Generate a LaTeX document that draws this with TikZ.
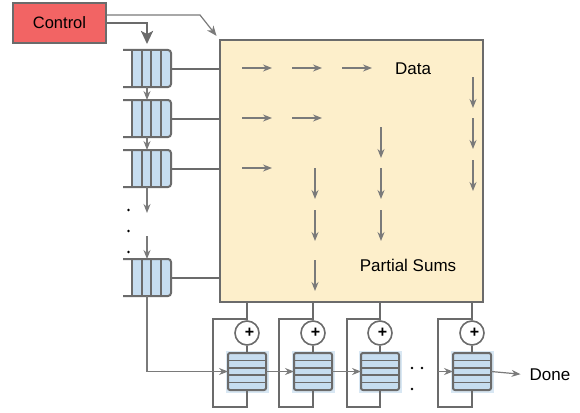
\documentclass[tikz,border=0pt]{standalone}
\usepackage{fontspec}
\setmainfont{Liberation Sans}
\usetikzlibrary{arrows.meta,calc}
\definecolor{linegray}{HTML}{6B6B6B}
\definecolor{arrgray}{HTML}{7A7A7A}
\definecolor{cream}{HTML}{FDEFCB}
\definecolor{qblue}{HTML}{C6DDF0}
\definecolor{ctlred}{HTML}{F26464}
\definecolor{glow}{HTML}{D8E7F3}
\newcommand\leftq[3]{%
  \node[qnode] (#1) at (#2,#3) {};
  \fill[qblue] ([xshift=9pt]#1.north west) rectangle (#1.south east);
  \foreach \dx in {9,19,28,38}{\draw[linegray,line width=1.6pt] ([xshift=\dx pt]#1.north west) -- ([xshift=\dx pt]#1.south west);}
  \draw[qline,rounded corners=3pt] (#1.north west) -- (#1.north east) -- (#1.south east) -- (#1.south west);
}
\newcommand\regq[3]{%
  \fill[glow] (#2-21.5,#3-21) rectangle (#2+21.5,#3+21);
  \node[regnode] (#1) at (#2,#3) {};
  \foreach \f in {1,2,3,4}{\draw[linegray,line width=1.6pt] ($(#1.north west)!\f/5!(#1.south west)$) -- ($(#1.north east)!\f/5!(#1.south east)$);}
}
\begin{document}
\begin{tikzpicture}[x=1pt,y=-1pt,
  qnode/.style={minimum width=48pt,minimum height=37pt,inner sep=0pt,outer sep=0pt},
  qline/.style={draw=linegray,line width=2pt},
  regnode/.style={minimum width=38pt,minimum height=37pt,inner sep=0pt,outer sep=0pt,draw=linegray,line width=2pt,fill=qblue,rounded corners=2pt},
  sumnode/.style={circle,draw=linegray,line width=1.6pt,fill=white,minimum size=24pt,inner sep=0pt,font=\fontsize{16}{16}\selectfont\bfseries},
  conn/.style={draw=linegray,line width=2pt},
  thinarr/.style={draw=arrgray,line width=1.2pt,-{Stealth[length=9pt,width=7pt,inset=3pt]}},
  lbl/.style={font=\fontsize{17}{20}\selectfont,inner sep=0pt}]
\useasboundingbox (0,0) rectangle (580,412);

% control
\node[draw=linegray,line width=2pt,fill=ctlred,minimum width=93pt,minimum height=40pt,inner sep=0pt,font=\fontsize{16.5}{20}\selectfont] (ctl) at (59.5,23) {Control\hspace{8pt}};

% big array
\node[draw=linegray,line width=2pt,fill=cream,minimum width=263pt,minimum height=262pt,inner sep=0pt] (arr) at (351.5,171) {};

% left queues
\leftq{q1}{147}{68.5}
\leftq{q2}{147}{118.5}
\leftq{q3}{147}{168.5}
\leftq{q4}{147}{277.5}

\coordinate (c1) at (200,15);
\draw[draw=arrgray,line width=1.2pt,-{Stealth[length=10pt,width=8pt,inset=3pt]},shorten >=4pt] (ctl.east |- c1) -- (c1) -- (arr.north west);
\draw[draw=linegray,line width=2.5pt,-{Stealth[length=13pt,width=12pt,inset=3pt]},shorten >=6pt] (ctl.east) -| (q1.north);

\foreach \q in {q1,q2,q3,q4}{\draw[conn] (\q.east) -- (\q.east -| arr.west);}
\draw[thinarr] (q1.south) -- (q2.north);
\draw[thinarr] (q2.south) -- (q3.north);
\coordinate (d1) at (147,213);
\coordinate (d2) at (147,236);
\draw[thinarr] (q3.south) -- (d1);
\draw[thinarr] (d2) -- (q4.north);
\foreach \yy in {210,231,252}{\fill (128.5,\yy) circle (1.4pt);}

% inner arrows
\foreach \xa/\yy in {242/68,292/68,342/68,242/118,292/118,242/168}{\draw[thinarr] (\xa,\yy) -- ++(30,0);}
\foreach \xx/\ya in {473/77,473/118,473/160,381/127,381/168,381/210,315/168,315/210,315/260}{\draw[thinarr] (\xx,\ya) -- ++(0,31);}
\node[lbl] (data) at (413,69) {Data};
\node[lbl] (psum) at (408,265) {Partial Sums};

% accumulators
\foreach \i/\xx in {1/247,2/313,3/380,4/472}{\regq{r\i}{\xx}{371.5}}
\foreach \i/\xx in {1/247,2/313,3/380,4/472}{\node[sumnode] (s\i) at (\xx,333) {\hspace*{5pt}\raisebox{-6pt}{+}};}
\foreach \i/\lx in {1/213,2/279,3/347,4/438}{
  \coordinate (lb\i) at (\lx,407);
  \coordinate (lt\i) at (\lx,319);
  \draw[conn] (s\i.north |- arr.south) -- (s\i.north);
  \draw[conn] (s\i.south) -- (r\i.north);
  \draw[conn] (r\i.south) |- (lb\i) -- (lt\i) -| (s\i.north);
}
\draw[thinarr] (q4.south) |- (r1.west);
\draw[thinarr] (r1.east) -- (r2.west);
\draw[thinarr] (r2.east) -- (r3.west);
\draw[thinarr] (lt4 |- r4.west) -- (r4.west);
\foreach \p in {(412,368),(422,368),(412,389)}{\fill \p circle (1.4pt);}
\node[lbl] (done) at (550,375) {Done};
\draw[thinarr,shorten >=9pt] (r4.east) -- (done.west);
\end{tikzpicture}
\end{document}
